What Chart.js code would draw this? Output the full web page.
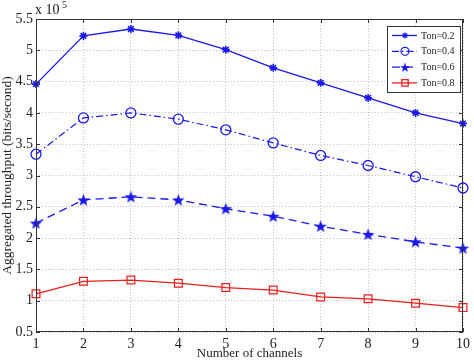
<!DOCTYPE html>
<html lang="en">
<head>
    <meta charset="UTF-8">
    <title>Aggregated throughput vs number of channels</title>
    <script src="https://cdn.jsdelivr.net/npm/chart.js"></script>
    <style>
        body { margin: 0; background: #fff; }
        #wrap { width: 474px; height: 360px; }
    </style>
</head>
<body>
    <div id="wrap"><canvas id="grafico" width="474" height="360"></canvas></div>

    <script>
        // data (values in units of 1e5 bits/second)
        const channels = ['1', '2', '3', '4', '5', '6', '7', '8', '9', '10'];
        const yTicks = [0.5, 1, 1.5, 2, 2.5, 3, 3.5, 4, 4.5, 5, 5.5];
        const seriesNames = ['Ton=0.2', 'Ton=0.4', 'Ton=0.6', 'Ton=0.8'];
        const ton02 = [4.46, 5.23, 5.34, 5.24, 5.01, 4.72, 4.48, 4.24, 4.00, 3.83];
        const ton04 = [3.34, 3.92, 4.00, 3.90, 3.73, 3.52, 3.32, 3.16, 2.98, 2.80];
        const ton06 = [2.24, 2.61, 2.66, 2.61, 2.47, 2.35, 2.19, 2.06, 1.94, 1.84];
        const ton08 = [1.11, 1.31, 1.33, 1.28, 1.21, 1.17, 1.06, 1.03, 0.96, 0.89];

        const blue = 'rgb(25,25,235)';
        const red = 'rgb(235,30,30)';
        const font = "'Liberation Serif', 'Times New Roman', serif";

        // filled five-pointed star marker for Ton=0.6
        function starMarker(size, color) {
            const c = document.createElement('canvas');
            c.width = size; c.height = size;
            const g = c.getContext('2d');
            const cx = size / 2, cy = size / 2 + 0.6, R = size / 2, r = R * 0.42;
            g.beginPath();
            for (let i = 0; i < 10; i++) {
                const rad = i % 2 === 0 ? R : r;
                const a = -Math.PI / 2 + i * Math.PI / 5;
                const px = cx + rad * Math.cos(a), py = cy + rad * Math.sin(a);
                i === 0 ? g.moveTo(px, py) : g.lineTo(px, py);
            }
            g.closePath();
            g.fillStyle = color;
            g.fill();
            return c;
        }
        const star5 = starMarker(13, blue);
        const star5small = starMarker(10, blue);

        // matlab-ish box, inward ticks, x10^5 label and legend
        const matlabFrame = {
            id: 'matlabFrame',
            afterDraw(chart) {
                const ctx = chart.ctx;
                const a = chart.chartArea;
                const xs = chart.scales.x, ys = chart.scales.y;
                ctx.save();
                ctx.strokeStyle = '#333';
                ctx.lineWidth = 1;
                ctx.strokeRect(a.left + 0.5, a.top + 0.5, a.right - a.left - 1, a.bottom - a.top - 1);
                ctx.beginPath();
                xs.ticks.forEach((t, i) => {
                    const px = Math.round(xs.getPixelForTick(i)) + 0.5;
                    ctx.moveTo(px, a.bottom); ctx.lineTo(px, a.bottom - 4);
                    ctx.moveTo(px, a.top); ctx.lineTo(px, a.top + 4);
                });
                ys.ticks.forEach(t => {
                    const py = Math.round(ys.getPixelForValue(t.value)) + 0.5;
                    ctx.moveTo(a.left, py); ctx.lineTo(a.left + 4, py);
                    ctx.moveTo(a.right, py); ctx.lineTo(a.right - 4, py);
                });
                ctx.stroke();

                // exponent label
                ctx.fillStyle = '#222';
                ctx.font = '14px ' + font;
                ctx.textBaseline = 'alphabetic';
                ctx.fillText('x 10', a.left - 1, 14);
                ctx.font = '10px ' + font;
                ctx.fillText('5', a.left + 26, 8);

                // legend
                const lx = 387, ly = 26, lw = 73, lh = 66;
                ctx.fillStyle = '#fff';
                ctx.fillRect(lx, ly, lw, lh);
                ctx.strokeStyle = '#333';
                ctx.strokeRect(lx + 0.5, ly + 0.5, lw, lh);
                chart.data.datasets.forEach((ds, i) => {
                    const y = 35.5 + i * 15.8;
                    ctx.strokeStyle = ds.borderColor;
                    ctx.lineWidth = ds.borderWidth;
                    ctx.setLineDash(ds.borderDash || []);
                    ctx.beginPath();
                    ctx.moveTo(392, y); ctx.lineTo(417, y);
                    ctx.stroke();
                    ctx.setLineDash([]);
                    ctx.fillStyle = ds.pointBackgroundColor;
                    Chart.helpers.drawPoint(ctx, {
                        pointStyle: ds.pointStyle === star5 ? star5small : ds.pointStyle,
                        radius: ds.pointRadius - 1,
                        rotation: 0, borderWidth: ds.pointBorderWidth
                    }, 405, y);
                    ctx.fillStyle = '#222';
                    ctx.font = '10px ' + font;
                    ctx.textBaseline = 'middle';
                    ctx.fillText(seriesNames[i], 421, y + 0.5);
                });
                ctx.restore();
            }
        };

        const ctx = document.getElementById('grafico').getContext('2d');
        new Chart(ctx, {
            type: 'line',
            data: {
                labels: channels,
                datasets: [
                    {
                        label: seriesNames[0], data: ton02,
                        borderColor: blue, borderWidth: 1.3,
                        pointStyle: 'star', pointRadius: 4, pointBorderWidth: 1.6,
                        pointBorderColor: blue, pointBackgroundColor: blue
                    },
                    {
                        label: seriesNames[1], data: ton04,
                        borderColor: blue, borderWidth: 1.2, borderDash: [7, 3, 1.5, 3],
                        pointStyle: 'circle', pointRadius: 5, pointBorderWidth: 1.3,
                        pointBorderColor: blue, pointBackgroundColor: 'rgba(0,0,0,0)'
                    },
                    {
                        label: seriesNames[2], data: ton06,
                        borderColor: blue, borderWidth: 1.3, borderDash: [8, 5],
                        pointStyle: star5, pointRadius: 6, pointBorderWidth: 1,
                        pointBorderColor: blue, pointBackgroundColor: blue
                    },
                    {
                        label: seriesNames[3], data: ton08,
                        borderColor: red, borderWidth: 1.3,
                        pointStyle: 'rect', pointRadius: 5.5, pointBorderWidth: 1.2,
                        pointBorderColor: red, pointBackgroundColor: 'rgba(0,0,0,0)'
                    }
                ]
            },
            options: {
                responsive: false,
                animation: false,
                devicePixelRatio: 1,
                layout: { padding: { left: 0, top: 19, right: 8, bottom: 0 } },
                plugins: {
                    legend: { display: false },
                    tooltip: { enabled: false }
                },
                elements: { line: { tension: 0 } },
                scales: {
                    x: {
                        offset: false,
                        grid: { color: '#c4c4c4', lineWidth: 1, drawTicks: false },
                        border: { display: false, dash: [1, 2] },
                        ticks: {
                            color: '#222', padding: 4, maxRotation: 0, autoSkip: false,
                            font: { family: font, size: 14 }
                        },
                        title: {
                            display: true, text: 'Number of channels', color: '#222',
                            padding: 0, font: { family: font, size: 13, lineHeight: 1 }
                        },
                        afterFit(scale) { scale.height = 28; }
                    },
                    y: {
                        min: 0.5, max: 5.5,
                        afterBuildTicks(scale) { scale.ticks = yTicks.map(v => ({ value: v })); },
                        grid: { color: '#c4c4c4', lineWidth: 1, drawTicks: false },
                        border: { display: false, dash: [1, 2] },
                        ticks: {
                            color: '#222', padding: 3,
                            font: { family: font, size: 14 },
                            callback: v => String(v)
                        },
                        title: {
                            display: true, text: 'Aggregated throughput (bits/second)', color: '#222',
                            padding: { top: 1, bottom: 0 }, font: { family: font, size: 13.5, lineHeight: 1 }
                        },
                        afterFit(scale) { scale.width = 36; }
                    }
                }
            },
            plugins: [matlabFrame]
        });
    </script>
</body>
</html>
